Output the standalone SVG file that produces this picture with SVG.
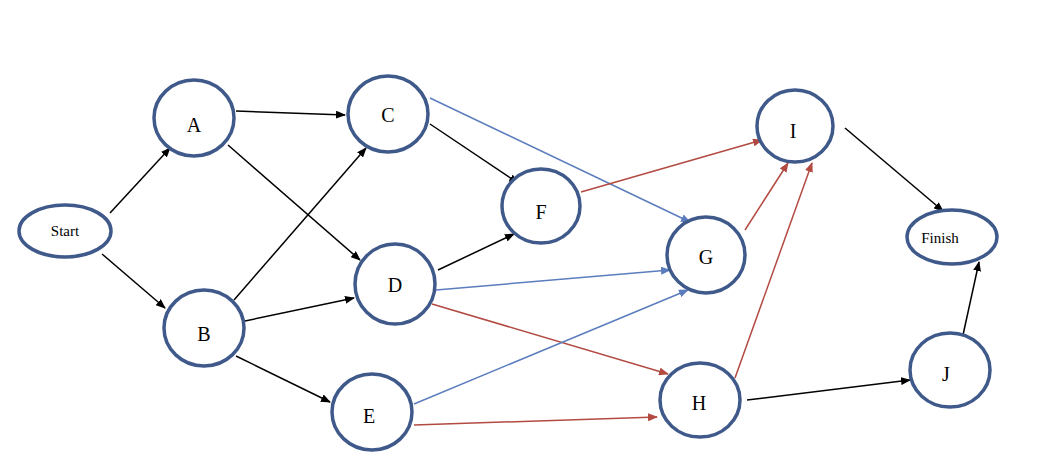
<svg xmlns="http://www.w3.org/2000/svg" width="1048" height="476" viewBox="0 0 1048 476">
<style>
.n{fill:#fff;stroke:#3F5A8A;stroke-width:3.5}
.t{font-family:"Liberation Serif",serif;font-size:20px;text-anchor:middle;fill:#000}
.s{font-size:15px}
.k{stroke:#000;stroke-width:1.5;fill:none}
.b{stroke:#5B7DBD;stroke-width:1.5;fill:none}
.r{stroke:#B24A42;stroke-width:1.5;fill:none}
</style>
<defs>
<marker id="ak" markerWidth="10" markerHeight="8" refX="9" refY="4" orient="auto" markerUnits="userSpaceOnUse"><path d="M0,0L10,4L0,8z" fill="#000"/></marker>
<marker id="ab" markerWidth="10" markerHeight="8" refX="9" refY="4" orient="auto" markerUnits="userSpaceOnUse"><path d="M0,0L10,4L0,8z" fill="#5B7DBD"/></marker>
<marker id="ar" markerWidth="10" markerHeight="8" refX="9" refY="4" orient="auto" markerUnits="userSpaceOnUse"><path d="M0,0L10,4L0,8z" fill="#B24A42"/></marker>
</defs>
<rect width="1048" height="476" fill="#fff"/>
<g id="connectors">
<line class="k" marker-end="url(#ak)" x1="110" y1="213" x2="170" y2="148"/>
<line class="k" marker-end="url(#ak)" x1="102" y1="254" x2="165" y2="308"/>
<line class="k" marker-end="url(#ak)" x1="236" y1="111" x2="345" y2="115"/>
<line class="k" marker-end="url(#ak)" x1="228" y1="145" x2="360" y2="260"/>
<line class="k" marker-end="url(#ak)" x1="234" y1="300" x2="366" y2="148"/>
<line class="k" marker-end="url(#ak)" x1="245" y1="321" x2="354" y2="298"/>
<line class="k" marker-end="url(#ak)" x1="236" y1="356" x2="330" y2="402"/>
<line class="k" marker-end="url(#ak)" x1="430" y1="124" x2="518" y2="183"/>
<line class="b" marker-end="url(#ab)" x1="430" y1="98" x2="690" y2="222"/>
<line class="k" marker-end="url(#ak)" x1="438" y1="270" x2="514" y2="234"/>
<line class="b" marker-end="url(#ab)" x1="436" y1="290" x2="670" y2="270"/>
<line class="r" marker-end="url(#ar)" x1="432" y1="304" x2="668" y2="374"/>
<line class="b" marker-end="url(#ab)" x1="414" y1="404" x2="688" y2="290"/>
<line class="r" marker-end="url(#ar)" x1="414" y1="425" x2="657" y2="417"/>
<line class="r" marker-end="url(#ar)" x1="581" y1="192" x2="762" y2="140"/>
<line class="r" marker-end="url(#ar)" x1="745" y1="230" x2="788" y2="163"/>
<line class="r" marker-end="url(#ar)" x1="735" y1="378" x2="812" y2="163"/>
<line class="k" marker-end="url(#ak)" x1="747" y1="400" x2="910" y2="380"/>
<line class="k" marker-end="url(#ak)" x1="845" y1="128" x2="943" y2="211"/>
<line class="k" marker-end="url(#ak)" x1="963" y1="335" x2="979" y2="262"/>
</g>
<g id="Start"><ellipse class="n" cx="65" cy="231" rx="46" ry="26"/><text class="t s" x="65" y="236">Start</text></g>
<g id="A"><ellipse class="n" cx="194" cy="118" rx="40" ry="38"/><text class="t" x="194" y="132">A</text></g>
<g id="B"><ellipse class="n" cx="204" cy="328" rx="40" ry="38"/><text class="t" x="204" y="341">B</text></g>
<g id="C"><ellipse class="n" cx="388" cy="114" rx="40" ry="38"/><text class="t" x="388" y="122">C</text></g>
<g id="D"><ellipse class="n" cx="395" cy="284" rx="40" ry="40"/><text class="t" x="395" y="292">D</text></g>
<g id="E"><ellipse class="n" cx="372" cy="412" rx="40" ry="38"/><text class="t" x="369" y="423">E</text></g>
<g id="F"><ellipse class="n" cx="541" cy="206" rx="39" ry="37"/><text class="t" x="541" y="219">F</text></g>
<g id="G"><ellipse class="n" cx="706" cy="255" rx="39" ry="38"/><text class="t" x="706" y="264">G</text></g>
<g id="H"><ellipse class="n" cx="700" cy="400" rx="40" ry="37"/><text class="t" x="699" y="410">H</text></g>
<g id="I"><ellipse class="n" cx="795" cy="126" rx="38" ry="36"/><text class="t" x="793" y="138">I</text></g>
<g id="Finish"><ellipse class="n" cx="952" cy="237" rx="45" ry="27"/><text class="t s" x="940" y="243">Finish</text></g>
<g id="J"><ellipse class="n" cx="950" cy="370" rx="40" ry="37"/><text class="t" x="946" y="381">J</text></g>
</svg>
